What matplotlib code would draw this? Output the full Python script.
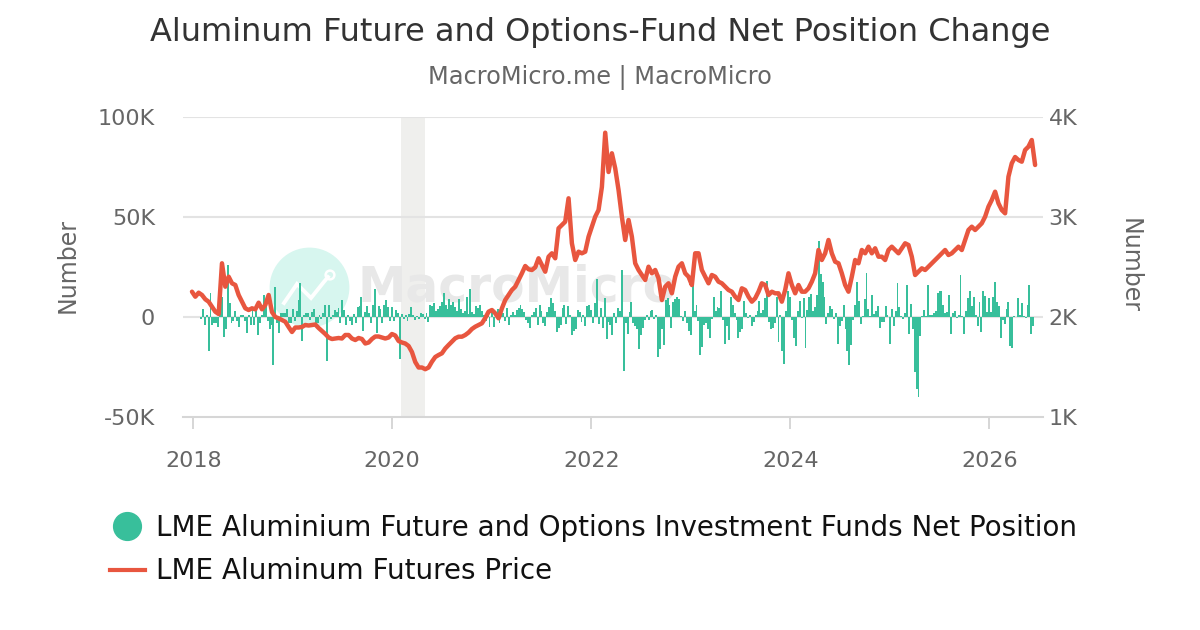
import numpy as np
import pandas as pd
import matplotlib
matplotlib.use("Agg")
import matplotlib.pyplot as plt
from matplotlib.lines import Line2D

plt.rcParams['font.family'] = ['DejaVu Sans']

# ---------------- data ----------------
title = "Aluminum Future and Options-Fund Net Position Change"
subtitle = "MacroMicro.me | MacroMicro"
bar_label = "LME Aluminium Future and Options Investment Funds Net Position"
line_label = "LME Aluminum Futures Price"

# weekly net position change (thousand contracts), one list per year, week 0 = Jan 1
net_2018 = [0, 0, 0, 0, -1, 4, -4, 1, -17, 12, -4, -3, -3, -5, 8, 10, -10, -6, 26, 7, -3, -2, 3, -2, -5, 1,
            1, -2, -8, 1, -4, 4, -4, 3, -9, -3, 1, 11, 8, -2, -6, -4, -24, 15, -3, -8, 2, 2, 2, 4, -3, -3]
net_2019 = [4, -2, 3, 8.5, 17, -12, 1, 2, 2, -1.5, 2.5, 4, -3, -3, 1, -1, 2, 6, -22, 6, -1, 1, 3.5, 2.5, 4.5, -3,
            8.5, 3.5, -4, 1, -2, -4, 1.5, -3, 5, 5.5, 10, -7, 2.5, 5.5, 2, -3, 6, 14, -8, 5.5, 4, -3, 6, 8.5, 5, -2]
net_2020 = [5, -2, 3.5, 2, -21, 1.5, -1, 1, -2, 1.5, 5, 1, -1.5, 0.5, -1, 2, 1.5, -1, 2, -2.5, 6, 5.5, 7, 3, 4, 5.5,
            7.5, 12, 6, 4, 9, 6, 7.5, 5, 3, 9, 4, 2, 3, 10, 1.5, 14, 2.5, 1.5, 5.5, 4.5, 6, 3, 1, -2, 3, -5]
net_2021 = [3, -5, 2, 4, -3, 5, 2, -2, 4.5, -4, 1, 2.5, 1, 3.5, 4.5, 6, 4, 2.5, -1.5, -3, -5.5, 1, 2.5, 4.5, -4, 6,
            3, -3, -4.5, 2.5, 5, 9.5, 7, 3, -7.5, -5.5, -4, 4.5, 6, -3.5, 5.5, 1, -9, -7, -6, 3.5, 2.5, -2.5, 1, -4.5, 5.5, 6]
net_2022 = [3.5, -3, 7, 19, -3.5, 4.5, -5.5, 9.5, -11, -2.5, -4, -9, 2, -3, 4.5, 3, 23.5, -27, -3, -8.5, 2.5, 7.5,
            -3, -4.5, -6, -16, -9, -5.5, -1.5, 1, -1.5, 3, 3.5, -1, 1, -20, -16, -6, -14, 8.5, 9.5, 6, -5.5, 7.5, 9,
            10, 9, 0.5, -2, 3, -3, -7]
net_2023 = [-9, 21, 3, 6, -2, -19, -15, -4, -3, -6, -10.5, -1, 10, 3, 5, 4.5, 13, -1.5, -13.5, -4.5, -11.5, 10, 6,
            2, -1.5, -10.5, -7.5, -6, 8, 2, -0.5, 1, -4.5, -2.5, 1, 3, 8, 2, 3.5, 9.5, 18, -2.5, -6, -5.5, -3, 10,
            -12.5, 1, -17, -23.5, 3, 13]
net_2024 = [10, -1.5, -10.5, -14.5, 3, 8, -0.5, 9.5, -15.5, 3.5, 10, 11.5, 3, 5, 11, 38, 21.5, 17.5, 10, -3.5, 2,
            5.5, 4, -1, 2, -13.5, -4.5, -2, 6, -6, -17, -24, -14, -1.5, 6, 17.5, 8, -3.5, 0.7, 9, 22, 4, 0.5, 11,
            1.5, 3, 5.5, -5.5, -2.5, -2.5, 5.5, 1]
net_2025 = [-13.5, 4, -4.5, 3, 17, 5, 0.5, -1, 2, 16, -8.5, 6.5, -6, -27.5, -36, -40, -9.5, 0.5, 3.5, 0.7, 16, 1,
            1, 2, 3, 12, 13, 13, 6, 2, 2.5, 11, -8.5, 2, 3, -0.7, 1, 21, 0.7, -8.5, 3, 9.5, 13, 5.5, 10, 1, -4.5,
            7.5, -7.5, 13, 10.5, 2.5]
net_2026 = [9.5, 2.5, 10, 17.5, 7.5, 5.5, -10.5, -1.5, -3.5, 4, 7.5, -14.5, -15.5, 0.5, 0, 9.5, 1, 7, 0.5, -0.7,
            6, 16, -8.5, -4.5]
net_by_year = {2018: net_2018, 2019: net_2019, 2020: net_2020, 2021: net_2021, 2022: net_2022,
               2023: net_2023, 2024: net_2024, 2025: net_2025, 2026: net_2026}

# LME aluminium price (USD/t), sampled roughly every 12 days from 2017-12-27 to 2026-06-18
price_start, price_end = "2017-12-27", "2026-06-18"
price = [
    2253, 2203, 2243, 2220, 2177, 2153, 2103, 2053, 2030, 2537, 2303, 2403, 2337, 2320, 2220, 2153, 2087, 2070,
    2087, 2077, 2143, 2077, 2120, 2220, 2050, 2000, 1987, 1970, 1953, 1900, 1850, 1895, 1895, 1900, 1920, 1915,
    1920, 1925, 1890, 1860, 1830, 1795, 1780, 1785, 1790, 1785, 1820, 1820, 1785, 1770, 1790, 1780, 1735, 1745,
    1780, 1805, 1805, 1795, 1785, 1795, 1830, 1815, 1760, 1745, 1735, 1710, 1650, 1550, 1495, 1495, 1478, 1495,
    1553, 1600, 1620, 1637, 1685, 1720, 1753, 1787, 1803, 1803, 1820, 1845,
    1880, 1903, 1920, 1937, 1990, 2053, 2070, 2037, 1987, 2087, 2170, 2220, 2270, 2303, 2370, 2437, 2510, 2477,
    2470, 2497, 2587, 2520, 2453, 2603, 2637, 2587, 2887, 2920, 2953, 3187, 2737, 2570, 2653, 2637, 2653, 2803,
    2903, 3003, 3070, 3300, 3843, 3450, 3637, 3487, 3270, 3003, 2770, 2970, 2803, 2537, 2470, 2420, 2370, 2503,
    2437, 2470, 2387, 2170, 2303, 2337, 2237, 2403, 2503, 2537, 2437, 2403, 2320, 2637, 2637, 2470, 2403, 2337,
    2420, 2403, 2353, 2337, 2303, 2270, 2253, 2203, 2170, 2287, 2270, 2203, 2153, 2187,
    2253, 2337, 2320, 2220, 2253, 2237, 2237, 2153, 2270, 2437, 2320, 2237, 2320, 2253, 2253, 2287, 2353, 2437,
    2670, 2570, 2637, 2770, 2637, 2553, 2537, 2437, 2320, 2253, 2403, 2570, 2537, 2670, 2637, 2703, 2637, 2687,
    2603, 2603, 2570, 2670, 2703, 2670, 2637, 2687, 2737, 2720, 2603, 2420, 2453, 2487, 2470, 2503, 2537, 2570,
    2603, 2637, 2670, 2620, 2637, 2670, 2703, 2670, 2770, 2870, 2903, 2870, 2903, 2937, 3003, 3103, 3170, 3253,
    3137, 3070, 3037, 3403, 3537, 3600, 3570, 3553, 3670, 3703, 3770, 3520,
]

recession_start, recession_end = "2020-02-01", "2020-04-30"
left_ticks = [-50, 0, 50, 100]
left_ticklabels = ["-50K", "0", "50K", "100K"]
right_ticks = [1000, 2000, 3000, 4000]
right_ticklabels = ["1K", "2K", "3K", "4K"]
x_tick_years = [2018, 2020, 2022, 2024, 2026]

# ---------------- styling ----------------
GREEN = "#38bf9b"
RED = "#e8563f"
GRID = "#e3e3e3"
TXT = "#666666"
W, H = 1200, 630

net_dates = []
net_vals = []
for yr, vals in net_by_year.items():
    net_dates.extend(pd.date_range(f"{yr}-01-01", periods=len(vals), freq="7D"))
    net_vals.extend(vals)
net_dates = pd.DatetimeIndex(net_dates)
net_vals = np.array(net_vals, dtype=float)

price_dates = pd.date_range(price_start, price_end, periods=len(price))

fig = plt.figure(figsize=(W / 100, H / 100), dpi=100)
ax = fig.add_axes([183 / W, 1 - 417 / H, 860 / W, 300 / H])
ax2 = ax.twinx()

ax.set_xlim(pd.Timestamp("2017-11-24"), pd.Timestamp("2026-07-17"))
ax.set_ylim(-50, 100)
ax2.set_ylim(1000, 4000)

# recession shading
ax.axvspan(pd.Timestamp(recession_start), pd.Timestamp(recession_end), color="#efefed", lw=0, zorder=0)

# watermark
def axc(px, py):
    return ((px - 183) / 860, (417 - py) / 300)

cx, cy = axc(309, 287)
ax.scatter([cx], [cy], s=3300, color="#d7f6ef", transform=ax.transAxes, zorder=0.4, linewidths=0)
zz = [axc(*p) for p in [(284, 303), (297, 284), (311, 298), (323, 283), (328, 277)]]
ax.plot([p[0] for p in zz], [p[1] for p in zz], color="white", lw=2.8, transform=ax.transAxes, zorder=0.45,
        solid_joinstyle="miter")
rx, ry = axc(330, 275)
ax.scatter([rx], [ry], s=40, facecolor="none", edgecolor="white", linewidths=1.8, transform=ax.transAxes,
           zorder=0.45)
tx, ty = axc(517, 288)
ax.text(tx, ty, "MacroMicro", transform=ax.transAxes, ha="center", va="center", fontsize=35,
        fontweight="bold", color="#e8e8e8", zorder=0.45)

# grid
for v in left_ticks[1:]:
    ax.axhline(v, color=GRID, lw=1.5, zorder=0.6)

# bars
ax.bar(net_dates, net_vals, width=7.0, color=GREEN, linewidth=0, zorder=2)

# price line
ax2.plot(price_dates, price, color=RED, lw=3.2, solid_joinstyle="round", solid_capstyle="round", zorder=3)

# axes cosmetics
for a in (ax, ax2):
    for s in a.spines.values():
        s.set_visible(False)
ax.spines["bottom"].set_visible(True)
ax.spines["bottom"].set_color("#d6d6d6")
ax.spines["bottom"].set_linewidth(1.5)

ax.set_yticks(left_ticks)
ax.set_yticklabels(left_ticklabels)
ax.tick_params(axis="y", length=0, pad=20, labelsize=16, labelcolor=TXT)
ax2.set_yticks(right_ticks)
ax2.set_yticklabels(right_ticklabels)
ax2.tick_params(axis="y", length=0, pad=4, labelsize=16, labelcolor=TXT)

ax.set_xticks([pd.Timestamp(f"{y}-01-01") for y in x_tick_years])
ax.set_xticklabels([str(y) for y in x_tick_years])
ax.tick_params(axis="x", length=8.5, width=1.4, color="#d6d6d6", pad=16, labelsize=16, labelcolor=TXT)

# axis titles
fig.text(68 / W, 1 - 265 / H, "Number", rotation=90, ha="center", va="center", fontsize=17, color=TXT)
fig.text(1130 / W, 1 - 265 / H, "Number", rotation=270, ha="center", va="center", fontsize=17, color=TXT)

# title / subtitle
fig.text(0.5, 1 - 33 / H, title, ha="center", va="center", fontsize=23, color="#333333")
fig.text(0.5, 1 - 77 / H, subtitle, ha="center", va="center", fontsize=17.3, color=TXT)

# legend
handles = [
    Line2D([], [], marker="o", markersize=20, linestyle="none", color=GREEN, label=bar_label),
    Line2D([], [], color=RED, lw=3, label=line_label),
]
fig.legend(handles=handles, loc="upper left", bbox_to_anchor=(110 / W, 1 - 514 / H), frameon=False,
           fontsize=20, handlelength=1.25, handletextpad=0.4, labelspacing=0.55, borderpad=0,
           borderaxespad=0, labelcolor="#111111")

fig.savefig("out.png", dpi=100)
